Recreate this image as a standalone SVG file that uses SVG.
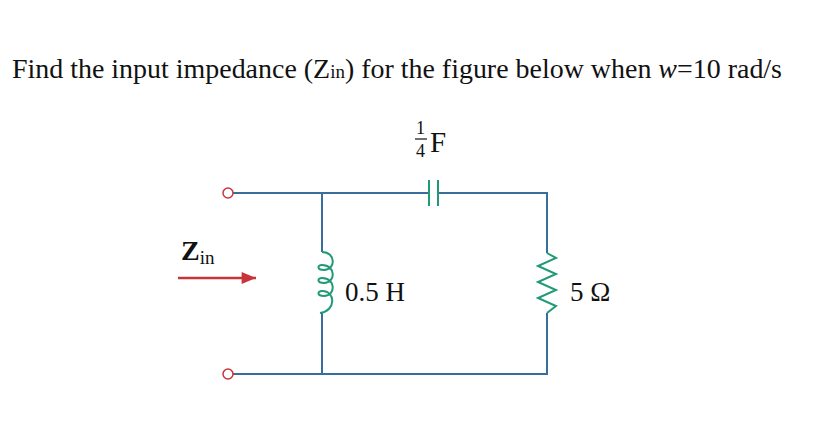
<svg xmlns="http://www.w3.org/2000/svg" width="819" height="433" viewBox="0 0 819 433">
<style>
.w{fill:none;stroke:#3a6e9a;stroke-width:2}
.c{fill:none;stroke:#1f9a78;stroke-width:2}
.t{font-family:"Liberation Serif",serif;fill:#111}
</style>
<defs>
<marker id="ah2" viewBox="0 0 12 10" markerWidth="16" markerHeight="12" refX="12" refY="5" orient="auto" markerUnits="userSpaceOnUse"><path d="M0,0L12,5L0,10z" fill="#c8343a"/></marker></defs>
<rect width="819" height="433" fill="#fff"/>
<text class="t" x="12" y="78" font-size="28" textLength="770" lengthAdjust="spacingAndGlyphs">Find the input impedance (Z<tspan font-size="19">in</tspan>) for the figure below when <tspan font-style="italic">w</tspan>=10 rad/s</text>
<g id="connectors">
<path class="w" d="M233,193H429M438,193H547V253M547,313V374H233M322,193V252M322,313V374"/>
<path d="M178,278H256" stroke="#c8343a" stroke-width="2.5" marker-end="url(#ah2)"/>
</g>
<g id="terminals" fill="#fff" stroke="#c8343a" stroke-width="1.5">
<circle cx="228" cy="193" r="5"/><circle cx="228" cy="374" r="5"/>
</g>
<g id="capacitor"><path class="c" d="M429,180V206M438,180V206"/>
<text class="t" x="416" y="134" font-size="18">1</text><path d="M415,139H427" stroke="#111" stroke-width="1.2"/><text class="t" x="416" y="157" font-size="18">4</text>
<text class="t" x="430" y="152" font-size="29">F</text></g>
<g id="inductor"><path class="c" d="M322,252c14,0 14,18 2,18c-7,0 -7,-5 -2,-5c14,0 14,18 2,18c-7,0 -7,-5 -2,-5c14,0 14,18 2,18c-7,0 -7,-5 -2,-5c14,0 14,20 -2,22"/>
<text class="t" x="345" y="301" font-size="27">0.5 H</text></g>
<g id="resistor"><path class="c" d="M547,253L556,258L538,266L556,274L538,282L556,290L538,298L556,306L547,313"/>
<text class="t" x="570" y="301" font-size="27">5 Ω</text></g>
<g id="zin"><text class="t" x="181" y="260" font-size="28" font-weight="bold">Z<tspan font-weight="normal" font-size="19" dy="4">in</tspan></text></g>
</svg>
